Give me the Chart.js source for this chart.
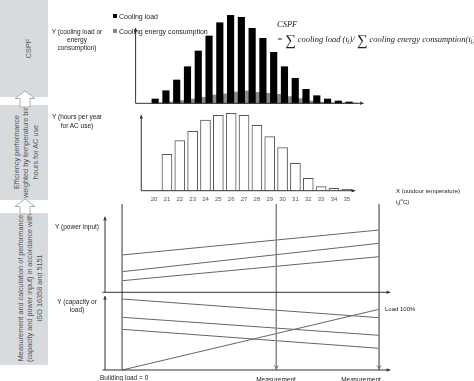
<!DOCTYPE html>
<html>
<head>
<meta charset="utf-8">
<script src="https://cdn.jsdelivr.net/npm/chart.js@4.4.1/dist/chart.umd.min.js"></script>
<style>
    body { margin: 0; width: 474px; height: 381px; overflow: hidden; background: #fff; position: relative;
           font-family: "Liberation Sans", Arial, sans-serif; color: #222; }
    .abs { position: absolute; white-space: nowrap; font-size: 6.5px; line-height: 8px; }
    .ylab { position: absolute; width: 64px; left: 45px; text-align: center; font-size: 6.5px; line-height: 8px; color: #222; }
    .box { position: absolute; left: 0; width: 48px; background: #d8dbde; }
    .vt { position: absolute; transform: rotate(-90deg); text-align: center; font-size: 7.3px; line-height: 9.3px; color: #555; white-space: nowrap; }
    .sq { position: absolute; width: 4px; height: 4px; }
    .formula { font-family: "Liberation Serif", serif; font-style: italic; font-size: 8.5px; color: #222; }
    .sig { font-size: 15px; font-style: normal; vertical-align: -3px; }
    sub { font-size: 0.7em; vertical-align: -1px; }
    canvas { position: absolute; }
</style>
</head>
<body>

<!-- side boxes -->
<div class="box" style="top:0;height:97px"></div>
<div class="box" style="top:105px;height:95px"></div>
<div class="box" style="top:213px;height:152px"></div>
<div class="vt" style="left:-12px;top:43.5px;width:80px;height:9px">CSPF</div>
<div class="vt" style="left:-24px;top:138px;width:100px;height:28px">Efficiency performance<br>weighted by temperature bin<br>hours for AC use</div>
<div class="vt" style="left:-50px;top:273.5px;width:160px;height:28px">Measurement and calculation of performance<br>(capacity and power input) in accordance with<br>ISO 16358 and 5151</div>
<svg width="48" height="381" style="position:absolute;left:0;top:0">
    <path d="M25 91 L35 98.5 L30 98.5 L30 107 L20 107 L20 98.5 L15 98.5 Z" fill="#fff" stroke="#a9adb1" stroke-width="1"/>
    <path d="M25 199 L35 206.5 L30 206.5 L30 214 L20 214 L20 206.5 L15 206.5 Z" fill="#fff" stroke="#a9adb1" stroke-width="1"/>
</svg>

<canvas id="top" width="300" height="110" style="left:100px;top:0"></canvas>
<canvas id="mid" width="300" height="97" style="left:100px;top:108px"></canvas>
<canvas id="bot" width="300" height="181" style="left:100px;top:200px"></canvas>

<!-- legend + labels -->
<div class="sq" style="left:113px;top:14px;background:#000"></div>
<div class="abs" style="left:119px;top:12px;font-size:7px;line-height:9px">Cooling load</div>
<div class="sq" style="left:113px;top:28.7px;background:#888"></div>
<div class="abs" style="left:119px;top:26.5px;font-size:7px;line-height:9px">Cooling energy consumption</div>

<div class="ylab" style="top:27.5px">Y (cooling load or<br>energy<br>consumption)</div>
<div class="ylab" style="top:112px;line-height:9px">Y (hours per year<br>for AC use)</div>
<div class="ylab" style="top:222.5px">Y (power input)</div>
<div class="ylab" style="top:297.5px;line-height:8.5px">Y (capacity or<br>load)</div>

<div class="abs formula" style="left:277px;top:19.5px">CSPF</div>
<div class="abs formula" style="left:277px;top:34px;line-height:10px">= <span class="sig">∑</span> cooling load (t<sub>j</sub>)/ <span class="sig">∑</span> cooling energy consumption(t<sub>j</sub>)</div>

<div class="abs" style="left:396px;top:187px;font-size:6px">X (outdoor temperature)</div>
<div class="abs" style="left:396px;top:195.5px;font-size:6px">t<sub>j</sub>(<sup style="font-size:0.7em">o</sup>C)</div>
<div class="abs" style="left:385px;top:305px;font-size:6px">Load 100%</div>
<div class="abs" style="left:100px;top:373.5px">Building load = 0</div>
<div class="abs" style="left:246px;top:376px;width:60px;text-align:center">Measurement</div>
<div class="abs" style="left:331px;top:376px;width:60px;text-align:center">Measurement</div>

<script>
// top panel: cooling load / energy per bin (relative heights)
const binIdx = [1, 2, 3, 4, 5, 6, 7, 8, 9, 10, 11, 12, 13, 14, 15, 16, 17, 18, 19];
const coolingLoad = [4.3, 12.6, 23.3, 36.6, 52.3, 67.3, 80.6, 88, 86, 75, 65, 51, 36.6, 25, 14, 7.6, 4.3, 2.3, 1.3];
const coolingEnergy = [0.5, 1.3, 2.7, 4.3, 6, 8.3, 9.3, 11.3, 12.3, 11, 10, 9, 6.7, 4.7, 2.3, 1.2, 0.5, 0.3, 0.3];

// middle panel: bin hours per outdoor temperature
const temps = [20, 21, 22, 23, 24, 25, 26, 27, 28, 29, 30, 31, 32, 33, 34, 35];
const hoursPerYear = [0, 36.4, 50, 59.4, 70.7, 75.4, 77.4, 75.4, 65.4, 54, 43, 27.4, 12.4, 4, 2.4, 1.4];

// bottom panels: straight lines between t = 20 and t = 35
const lineTemps = [20, 35];
const power1 = [126, 151];
const power2 = [109.3, 137.7];
const power3 = [100.3, 124.3];
const capacity1 = [82, 63.3];
const capacity2 = [63.7, 45.7];
const capacity3 = [51.7, 32.7];
const load100 = [11, 71.7];
const measureTemps = [20, 29, 35];

const arrowAxes = {
    id: 'arrowAxes',
    afterDatasetsDraw(chart, args, opts) {
        const ctx = chart.ctx;
        const xs = chart.scales.x, ys = chart.scales.y;
        ctx.save();
        (opts.segments || []).forEach(s => {
            const x1 = xs.getPixelForValue(s.from[0]), y1 = ys.getPixelForValue(s.from[1]);
            const x2 = xs.getPixelForValue(s.to[0]), y2 = ys.getPixelForValue(s.to[1]);
            ctx.strokeStyle = s.color || '#333';
            ctx.fillStyle = s.color || '#333';
            ctx.lineWidth = 1;
            if (!s.headOnly) {
                ctx.beginPath();
                ctx.moveTo(x1, y1);
                ctx.lineTo(x2, y2);
                ctx.stroke();
            }
            if (s.arrow) {
                const a = Math.atan2(y2 - y1, x2 - x1);
                const len = s.chevron ? 3 : 3.5, w = s.chevron ? 2 : 1.8;
                const lx = x2 - len * Math.cos(a) + w * Math.sin(a), ly = y2 - len * Math.sin(a) - w * Math.cos(a);
                const rx = x2 - len * Math.cos(a) - w * Math.sin(a), ry = y2 - len * Math.sin(a) + w * Math.cos(a);
                ctx.beginPath();
                if (s.chevron) {
                    ctx.moveTo(lx, ly);
                    ctx.lineTo(x2, y2);
                    ctx.lineTo(rx, ry);
                    ctx.stroke();
                } else {
                    ctx.moveTo(x2, y2);
                    ctx.lineTo(lx, ly);
                    ctx.lineTo(rx, ry);
                    ctx.closePath();
                    ctx.fill();
                }
            }
        });
        if (opts.labels) {
            ctx.font = '6px "Liberation Sans", Arial, sans-serif';
            ctx.fillStyle = '#555';
            ctx.textAlign = 'center';
            ctx.textBaseline = 'middle';
            opts.labels.values.forEach(v => {
                ctx.fillText(String(v), xs.getPixelForValue(v), ys.getPixelForValue(opts.labels.y));
            });
        }
        ctx.restore();
    }
};

function baseOptions(xmin, xmax, ymin, ymax, axes) {
    return {
        responsive: false,
        animation: false,
        events: [],
        layout: { padding: 0 },
        plugins: { legend: { display: false }, tooltip: { enabled: false }, arrowAxes: axes },
        scales: {
            x: { type: 'linear', display: false, min: xmin, max: xmax },
            y: { type: 'linear', display: false, min: ymin, max: ymax }
        }
    };
}

// top chart
new Chart(document.getElementById('top'), {
    type: 'bar',
    data: {
        datasets: [
            { data: binIdx.map((b, i) => ({ x: b, y: coolingLoad[i] })), backgroundColor: '#000', barThickness: 6.5 },
            { data: binIdx.map((b, i) => ({ x: b, y: coolingEnergy[i] })), backgroundColor: '#8a8a8a', barThickness: 4.5 }
        ]
    },
    options: baseOptions(-1.6355, 20.636, -6.7, 103.3, {
        segments: [
            { from: [-1.116, 0], to: [-1.116, 75.3], arrow: true },
            { from: [-1.116, 0], to: [20.04, 0], arrow: true }
        ]
    }),
    plugins: [arrowAxes]
});

// middle chart
new Chart(document.getElementById('mid'), {
    type: 'bar',
    data: {
        datasets: [{
            data: temps.map((t, i) => ({ x: t, y: hoursPerYear[i] })),
            backgroundColor: '#fff',
            borderColor: '#555',
            borderWidth: 1,
            barThickness: 10
        }]
    },
    options: baseOptions(18.708, 36.221, -14.3, 82.7, {
        segments: [
            { from: [19, 0], to: [19, 75.7], arrow: true },
            { from: [19, 0], to: [35.65, 0], arrow: true }
        ],
        labels: { values: temps, y: -8.6 }
    }),
    plugins: [arrowAxes]
});

// bottom chart (power input + capacity/load)
const lineSet = (vals, color) => ({
    data: lineTemps.map((t, i) => ({ x: t, y: vals[i] })),
    borderColor: color, borderWidth: 1, pointRadius: 0, fill: false, tension: 0
});
const verticals = measureTemps.map(t => ({
    data: [{ x: t, y: 177 }, { x: t, y: 11 }],
    borderColor: '#888', borderWidth: 1, pointRadius: 0, fill: false
}));

new Chart(document.getElementById('bot'), {
    type: 'line',
    data: {
        datasets: [
            ...verticals,
            lineSet(power1, '#666'),
            lineSet(power2, '#666'),
            lineSet(power3, '#666'),
            lineSet(capacity1, '#666'),
            lineSet(capacity2, '#666'),
            lineSet(capacity3, '#666'),
            lineSet(load100, '#666')
        ]
    },
    options: baseOptions(18.708, 36.221, 0, 181, {
        segments: [
            { from: [19, 88.7], to: [19, 164.3], arrow: true },
            { from: [18.85, 88.7], to: [35.65, 88.7], arrow: true },
            { from: [19, 11], to: [19, 85], arrow: true },
            { from: [18.85, 11], to: [35.65, 11], arrow: true },
            ...measureTemps.slice(1).map(t => ({ from: [t, 20], to: [t, 12.5], arrow: true, chevron: true, headOnly: true, color: '#666' }))
        ]
    }),
    plugins: [arrowAxes]
});
</script>
</body>
</html>
